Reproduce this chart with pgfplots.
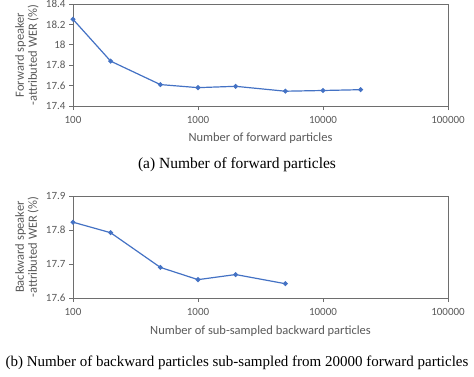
\documentclass[border=0pt]{standalone}
\usepackage{pgfplots}
\pgfplotsset{compat=1.18}
\usepackage{fontspec}
\setmainfont{Carlito}
\newfontfamily\capfont{Liberation Serif}
\definecolor{xlblue}{HTML}{4472C4}
\definecolor{tickgray}{HTML}{595959}
\definecolor{framegray}{HTML}{6E6E6E}
\begin{document}
\begin{tikzpicture}
\useasboundingbox (0pt,0pt) rectangle (474pt,376pt);
\begin{axis}[at={(73pt,270pt)}, anchor=south west,
  xmode=log, log basis x=10,
  scale only axis, width=375pt, height=102pt,
  xmin=100, xmax=100000,
  xtick={100,1000,10000,100000},
  xticklabels={100,1000,10000,100000},
  axis line style={framegray, line width=1pt},
  tick style={framegray, line width=0.8pt},
  major tick length=4pt,
  xtick pos=bottom, ytick pos=left,
  tick align=outside,
  minor tick num=0,
  ticklabel style={font=\fontsize{11}{12}\selectfont, text=tickgray},
  xticklabel style={yshift=-3pt},
  /pgf/number format/assume math mode=true,
  label style={font=\fontsize{12.5}{13}\selectfont, text=tickgray},
  xlabel style={at={(axis description cs:0.5,0)}, anchor=center, yshift=-32pt},
  ylabel style={align=center, at={(axis description cs:-0.1227,0.5)}, anchor=center},
  ymin=17.4, ymax=18.4, ytick={17.4,17.6,17.8,18,18.2,18.4},
  yticklabels={17.4,17.6,17.8,18,18.2,18.4},
  xlabel={Number of forward particles},
  ylabel={Forward speaker\\-attributed WER (\%)}]
\addplot[xlblue, line width=1.2pt, mark=*, mark size=1.8pt, mark options={fill=xlblue, draw=xlblue}] coordinates {(100,18.25) (200,17.84) (500,17.61) (1000,17.58) (2000,17.593) (5000,17.545) (10000,17.552) (20000,17.56)};
\end{axis}
\node[font=\capfont\fontsize{15.5}{17}\selectfont] at (237pt,211pt) {(a) Number of forward particles};
\begin{axis}[at={(73pt,78pt)}, anchor=south west,
  xmode=log, log basis x=10,
  scale only axis, width=375pt, height=102pt,
  xmin=100, xmax=100000,
  xtick={100,1000,10000,100000},
  xticklabels={100,1000,10000,100000},
  axis line style={framegray, line width=1pt},
  tick style={framegray, line width=0.8pt},
  major tick length=4pt,
  xtick pos=bottom, ytick pos=left,
  tick align=outside,
  minor tick num=0,
  ticklabel style={font=\fontsize{11}{12}\selectfont, text=tickgray},
  xticklabel style={yshift=-3pt},
  /pgf/number format/assume math mode=true,
  label style={font=\fontsize{12.5}{13}\selectfont, text=tickgray},
  xlabel style={at={(axis description cs:0.5,0)}, anchor=center, yshift=-33pt},
  ylabel style={align=center, at={(axis description cs:-0.1227,0.5)}, anchor=center},
  ymin=17.6, ymax=17.9, ytick={17.6,17.7,17.8,17.9},
  yticklabels={17.6,17.7,17.8,17.9},
  xlabel={Number of sub-sampled backward particles},
  ylabel={Backward speaker\\-attributed WER (\%)}]
\addplot[xlblue, line width=1.2pt, mark=*, mark size=1.8pt, mark options={fill=xlblue, draw=xlblue}] coordinates {(100,17.823) (200,17.792) (500,17.69) (1000,17.654) (2000,17.669) (5000,17.642)};
\end{axis}
\node[font=\capfont\fontsize{15}{17}\selectfont] at (237pt,13pt) {(b) Number of backward particles sub-sampled from 20000 forward particles};
\end{tikzpicture}
\end{document}
